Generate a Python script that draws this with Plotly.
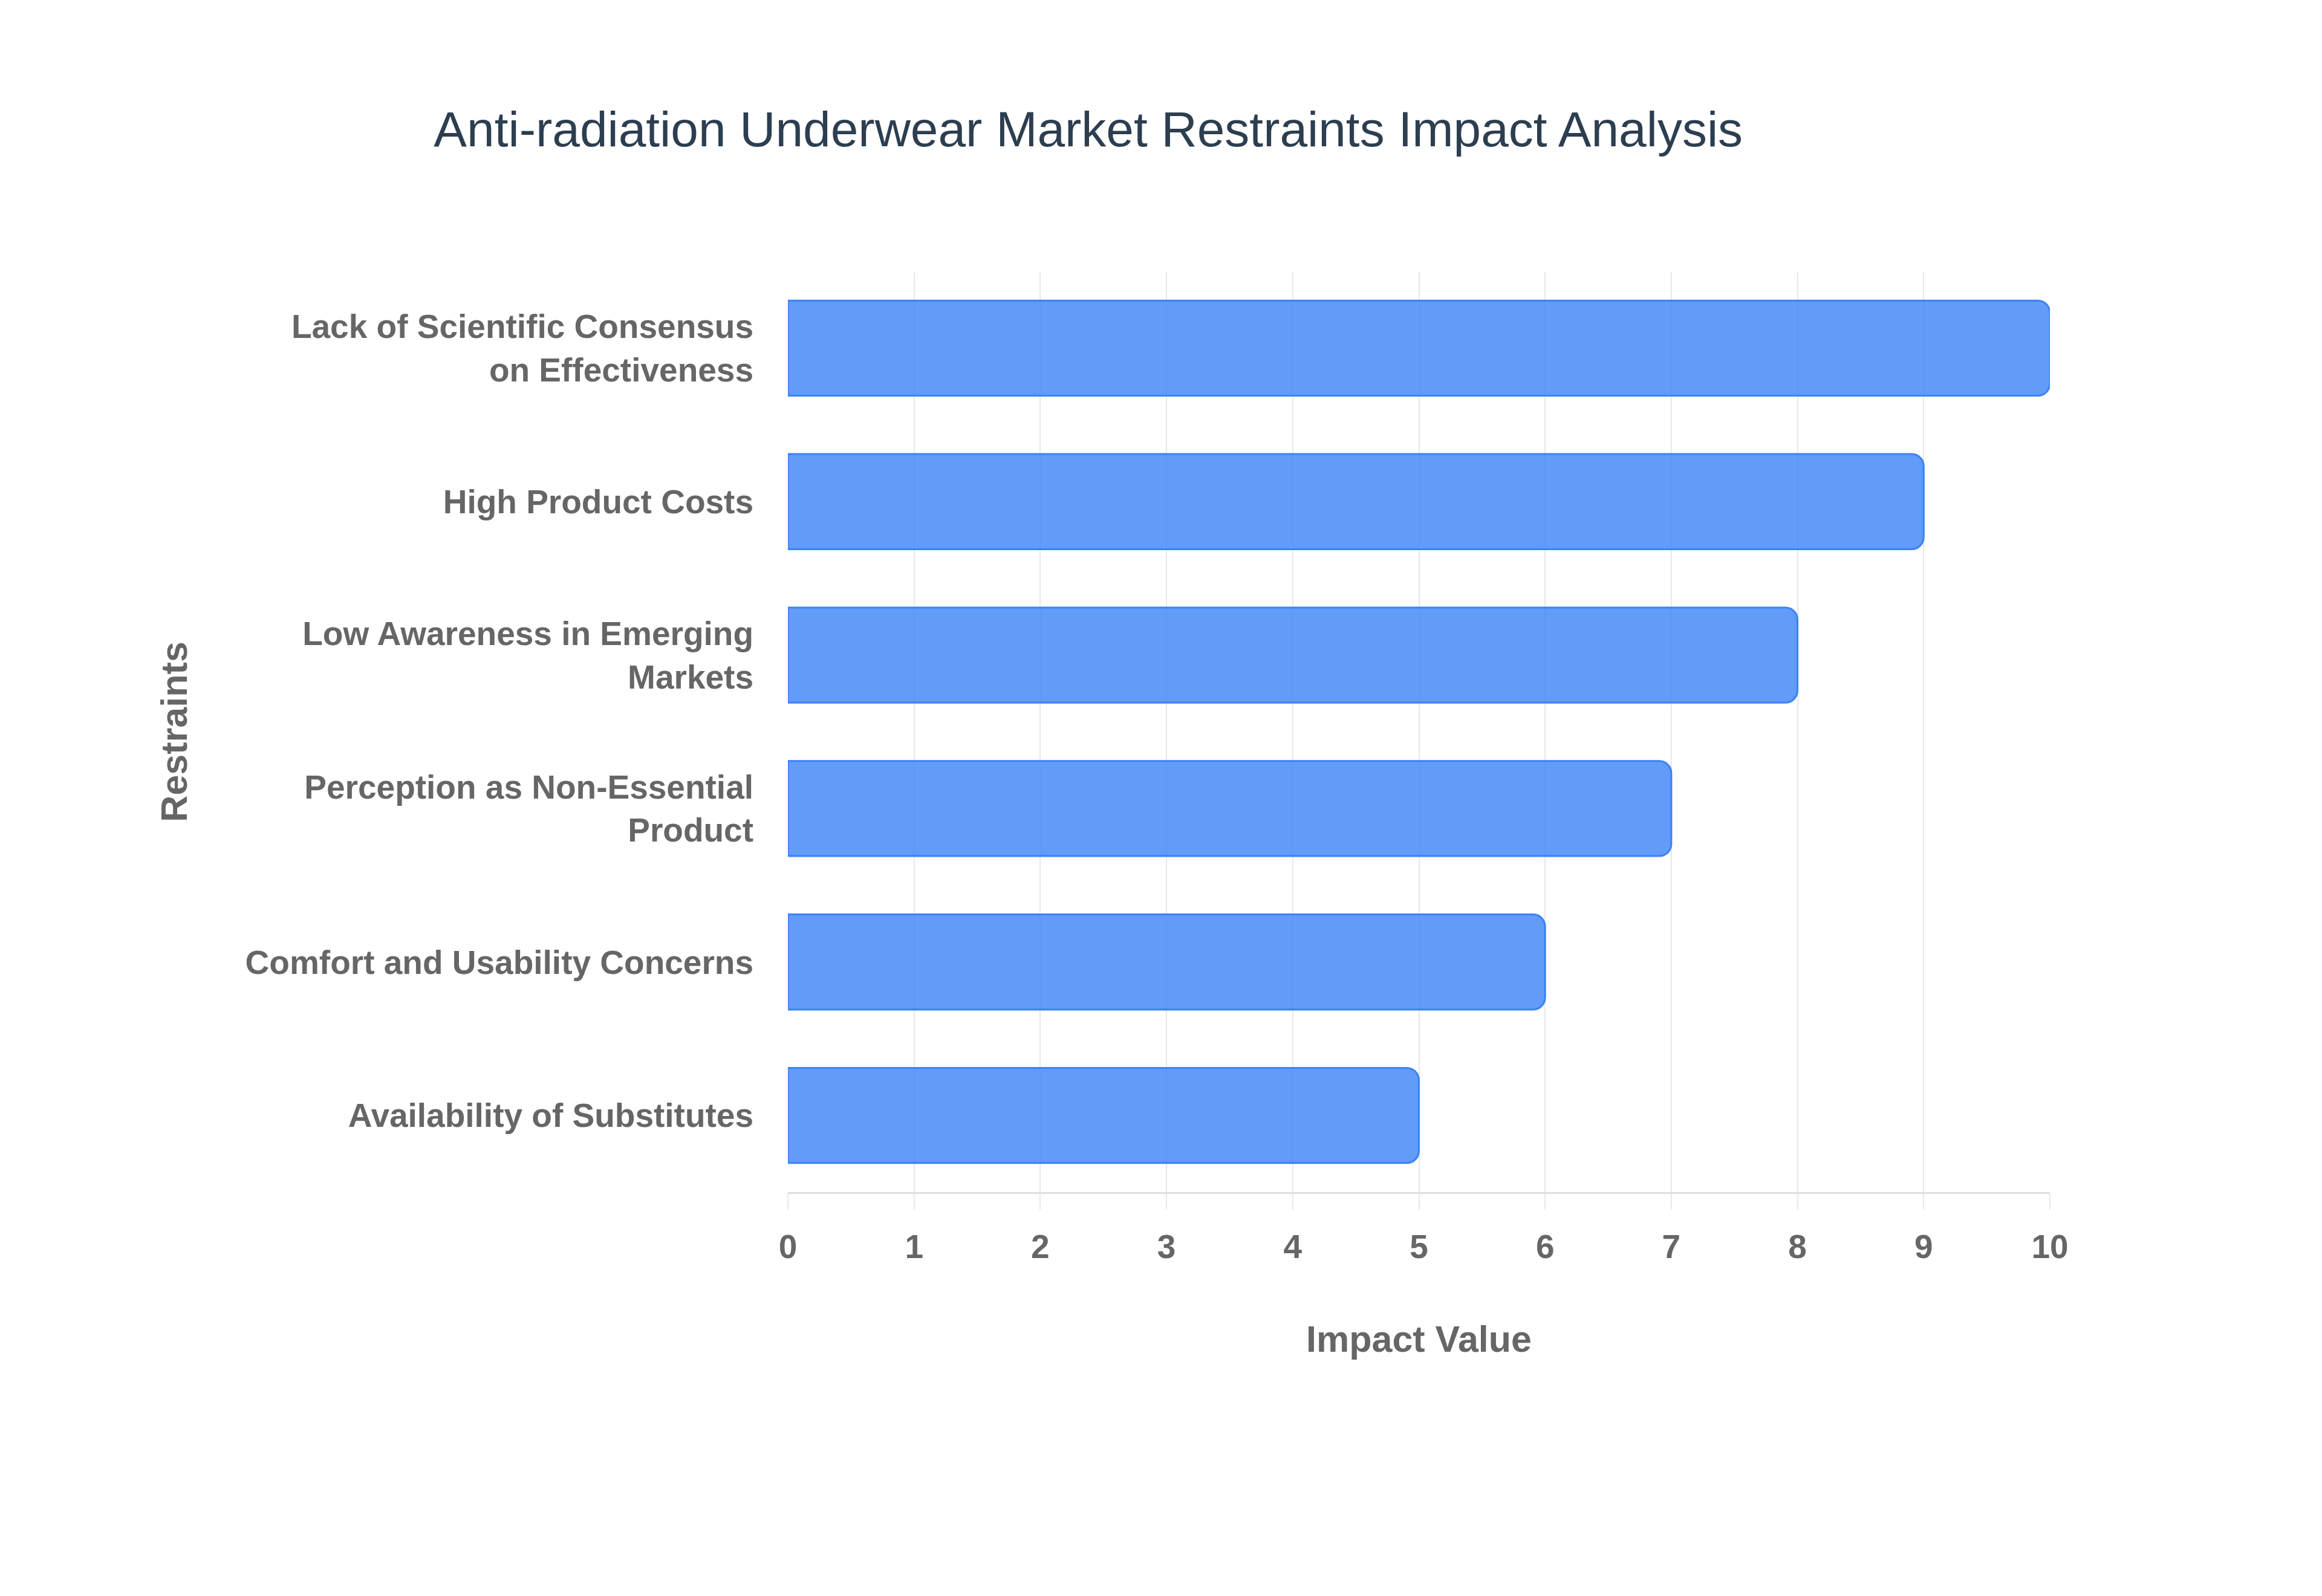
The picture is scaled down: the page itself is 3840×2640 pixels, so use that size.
import plotly.graph_objects as go

# restraints, top to bottom as drawn
restraints = [
    "Lack of Scientific Consensus<br>on Effectiveness",
    "High Product Costs",
    "Low Awareness in Emerging<br>Markets",
    "Perception as Non-Essential<br>Product",
    "Comfort and Usability Concerns",
    "Availability of Substitutes",
]
impact = [10, 9, 8, 7, 6, 5]
x_ticks = list(range(0, 11))

fig = go.Figure()
fig.add_trace(go.Bar(
    x=impact,
    y=restraints,
    orientation="h",
    marker=dict(
        color="rgba(59,130,246,0.8)",
        line=dict(color="#3b82f6", width=3),
        cornerradius=20,
    ),
    hovertemplate="%{y}: %{x}<extra></extra>",
))

fig.update_layout(
    width=3840,
    height=2640,
    paper_bgcolor="white",
    plot_bgcolor="white",
    margin=dict(l=1295, r=458, t=441, b=676),
    bargap=0.38,
    showlegend=False,
    font=dict(family="Liberation Sans, Arial, sans-serif", color="#666666"),
    title=dict(
        text="Anti-radiation Underwear Market Restraints Impact Analysis",
        x=0.4666, xanchor="center",
        y=0.9224, yanchor="middle",
        font=dict(family="Liberation Sans, Arial, sans-serif", size=82, color="#2c3e50"),
    ),
)

fig.update_xaxes(
    range=[0, 10],
    tickvals=x_ticks,
    showgrid=True, gridcolor="#e8e8e8", gridwidth=2,
    zeroline=False,
    showline=True, linecolor="#dddddd", linewidth=3,
    ticks="outside", ticklen=26, tickwidth=2, tickcolor="#e8e8e8",
    ticklabelstandoff=14,
    tickfont=dict(family="Liberation Sans, Arial, sans-serif", size=55, color="#666666", weight="bold"),
    title=dict(
        text="Impact Value",
        standoff=102,
        font=dict(family="Liberation Sans, Arial, sans-serif", size=61, color="#666666", weight="bold"),
    ),
)

fig.update_yaxes(
    categoryorder="array",
    categoryarray=restraints[::-1],
    showgrid=False,
    zeroline=False,
    showline=False,
    ticks="",
    ticklabelstandoff=56,
    tickfont=dict(family="Liberation Sans, Arial, sans-serif", size=55, color="#666666", weight="bold"),
    title=dict(
        text="Restraints",
        standoff=76,
        font=dict(family="Liberation Sans, Arial, sans-serif", size=61, color="#666666", weight="bold"),
    ),
)

fig.write_html("out.html")
